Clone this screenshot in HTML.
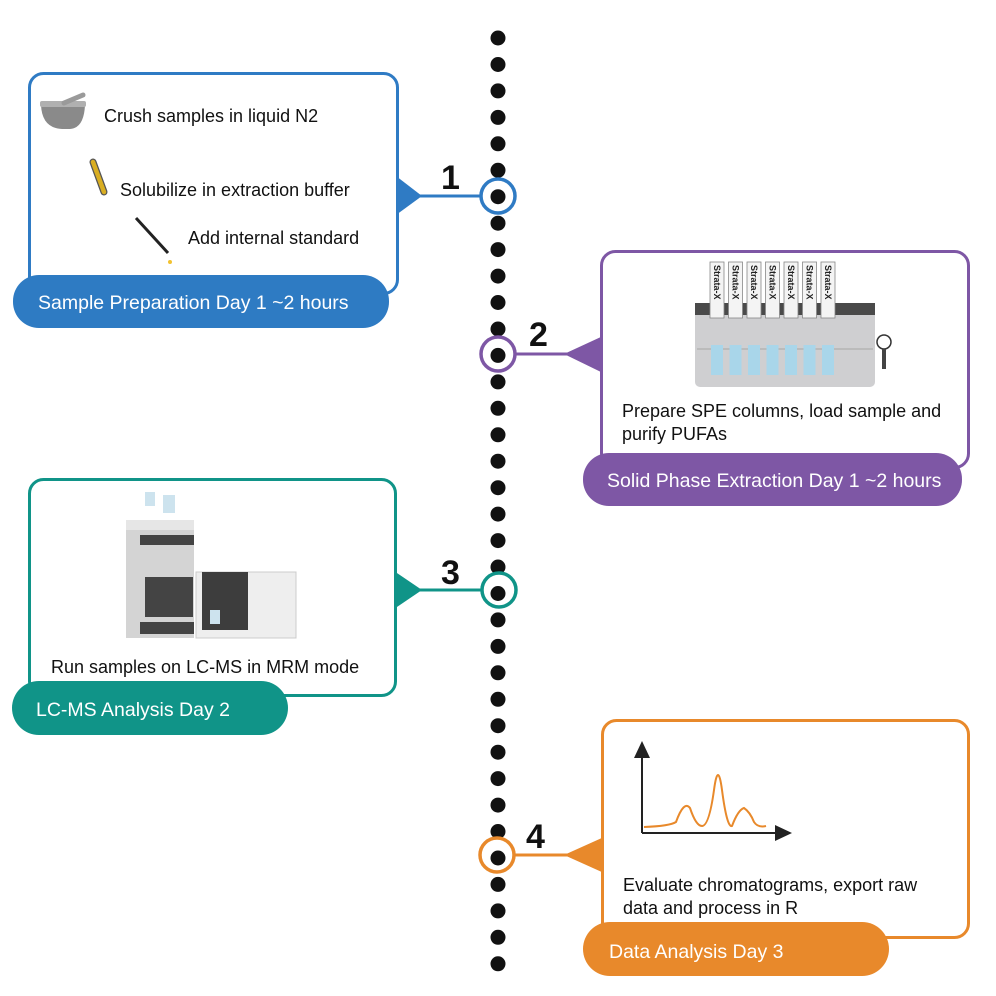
<!DOCTYPE html>
<html><head><meta charset="utf-8"><style>
html,body{margin:0;padding:0;background:#fff}
svg{display:block}
text{font-family:"Liberation Sans",sans-serif}
</style></head><body>
<svg width="996" height="996" viewBox="0 0 996 996" xmlns="http://www.w3.org/2000/svg">
<g fill="#111">
<circle cx="498" cy="38" r="7.5"/><circle cx="498" cy="64.5" r="7.5"/><circle cx="498" cy="90.9" r="7.5"/><circle cx="498" cy="117.4" r="7.5"/><circle cx="498" cy="143.8" r="7.5"/><circle cx="498" cy="170.3" r="7.5"/><circle cx="498" cy="196.7" r="7.5"/><circle cx="498" cy="223.2" r="7.5"/><circle cx="498" cy="249.6" r="7.5"/><circle cx="498" cy="276.1" r="7.5"/><circle cx="498" cy="302.5" r="7.5"/><circle cx="498" cy="329" r="7.5"/><circle cx="498" cy="355.4" r="7.5"/><circle cx="498" cy="381.9" r="7.5"/><circle cx="498" cy="408.3" r="7.5"/><circle cx="498" cy="434.8" r="7.5"/><circle cx="498" cy="461.2" r="7.5"/><circle cx="498" cy="487.7" r="7.5"/><circle cx="498" cy="514.1" r="7.5"/><circle cx="498" cy="540.6" r="7.5"/><circle cx="498" cy="567" r="7.5"/><circle cx="498" cy="593.5" r="7.5"/><circle cx="498" cy="619.9" r="7.5"/><circle cx="498" cy="646.4" r="7.5"/><circle cx="498" cy="672.8" r="7.5"/><circle cx="498" cy="699.3" r="7.5"/><circle cx="498" cy="725.7" r="7.5"/><circle cx="498" cy="752.2" r="7.5"/><circle cx="498" cy="778.6" r="7.5"/><circle cx="498" cy="805.1" r="7.5"/><circle cx="498" cy="831.5" r="7.5"/><circle cx="498" cy="858" r="7.5"/><circle cx="498" cy="884.4" r="7.5"/><circle cx="498" cy="910.9" r="7.5"/><circle cx="498" cy="937.3" r="7.5"/><circle cx="498" cy="963.8" r="7.5"/>
</g>

<!-- Box 1 -->
<rect x="29.5" y="73.5" width="368" height="220" rx="14" fill="#fff" stroke="#2f7bc4" stroke-width="3"/>
<polygon points="396,176 396,215 422,196" fill="#2f7bc4"/>
<line x1="416" y1="196" x2="482" y2="196" stroke="#2f7bc4" stroke-width="3"/>
<circle cx="498" cy="196" r="17" fill="none" stroke="#2f7bc4" stroke-width="3.5"/>
<text x="441" y="189" font-size="34" font-weight="bold" fill="#111">1</text>
<rect x="13" y="275" width="376" height="53" rx="26" fill="#2e7bc3"/>
<text x="38" y="309" font-size="19.5" fill="#fff">Sample Preparation Day 1 ~2 hours</text>
<path d="M41 105 Q42 128 62 129 L70 129 Q84 128 85 105 Z" fill="#8a8a8a"/>
<rect x="40" y="101" width="46" height="6" rx="2" fill="#b0b0b0"/>
<line x1="64" y1="103" x2="83" y2="95" stroke="#9a9a9a" stroke-width="5" stroke-linecap="round"/>
<text x="104" y="122" font-size="18" fill="#111">Crush samples in liquid N2</text>
<line x1="93" y1="162" x2="104" y2="192" stroke="#555" stroke-width="7" stroke-linecap="round"/>
<line x1="93" y1="162" x2="104" y2="192" stroke="#d9ae22" stroke-width="4.5" stroke-linecap="round"/>
<text x="120" y="196" font-size="18" fill="#111">Solubilize in extraction buffer</text>
<line x1="136" y1="218" x2="168" y2="253" stroke="#222" stroke-width="3"/>
<circle cx="170" cy="262" r="2" fill="#f2c230"/>
<text x="188" y="244" font-size="18" fill="#111">Add internal standard</text>

<!-- Box 2 -->
<rect x="601.5" y="251.5" width="367" height="216" rx="14" fill="#fff" stroke="#7e57a5" stroke-width="3"/>
<polygon points="603,336 603,373 564,354" fill="#7e57a5"/>
<line x1="514" y1="354" x2="570" y2="354" stroke="#7e57a5" stroke-width="3"/>
<circle cx="498" cy="354" r="17" fill="none" stroke="#7e57a5" stroke-width="3.5"/>
<text x="529" y="346" font-size="34" font-weight="bold" fill="#111">2</text>
<rect x="583" y="453" width="379" height="53" rx="26" fill="#7e57a5"/>
<text x="607" y="487" font-size="19.5" fill="#fff">Solid Phase Extraction Day 1 ~2 hours</text>
<rect x="695" y="303" width="180" height="84" rx="5" fill="#cfcfd1"/>
<rect x="695" y="303" width="180" height="12" fill="#4a4a4a"/>
<rect x="697" y="348" width="176" height="2" fill="#bbb"/>
<g stroke="#888" stroke-width="0.8" fill="#f4f4f4">
<rect x="710" y="262" width="14" height="56"/><rect x="728.5" y="262" width="14" height="56"/><rect x="747" y="262" width="14" height="56"/><rect x="765.5" y="262" width="14" height="56"/><rect x="784" y="262" width="14" height="56"/><rect x="802.5" y="262" width="14" height="56"/><rect x="821" y="262" width="14" height="56"/>
</g>
<g fill="#a9d6ea">
<rect x="711" y="345" width="12" height="30"/><rect x="729.5" y="345" width="12" height="30"/><rect x="748" y="345" width="12" height="30"/><rect x="766.5" y="345" width="12" height="30"/><rect x="785" y="345" width="12" height="30"/><rect x="803.5" y="345" width="12" height="30"/><rect x="822" y="345" width="12" height="30"/>
</g>
<g font-size="9" font-weight="bold" fill="#222">
<text transform="translate(714,265) rotate(90)">Strata-X</text><text transform="translate(732.5,265) rotate(90)">Strata-X</text><text transform="translate(751,265) rotate(90)">Strata-X</text><text transform="translate(769.5,265) rotate(90)">Strata-X</text><text transform="translate(788,265) rotate(90)">Strata-X</text><text transform="translate(806.5,265) rotate(90)">Strata-X</text><text transform="translate(825,265) rotate(90)">Strata-X</text>
</g>
<circle cx="884" cy="342" r="7" fill="#fff" stroke="#333" stroke-width="1.5"/>
<rect x="882" y="349" width="4" height="20" fill="#444"/>
<text x="622" y="417" font-size="18" fill="#111">Prepare SPE columns, load sample and</text>
<text x="622" y="440" font-size="18" fill="#111">purify PUFAs</text>

<!-- Box 3 -->
<rect x="29.5" y="479.5" width="366" height="216" rx="14" fill="#fff" stroke="#109488" stroke-width="3"/>
<polygon points="394,571 394,609 422,590" fill="#109488"/>
<line x1="416" y1="590" x2="483" y2="590" stroke="#109488" stroke-width="3"/>
<circle cx="499" cy="590" r="17" fill="none" stroke="#109488" stroke-width="3.5"/>
<text x="441" y="584" font-size="34" font-weight="bold" fill="#111">3</text>
<rect x="12" y="681" width="276" height="54" rx="27" fill="#109488"/>
<text x="36" y="716" font-size="19.5" fill="#fff">LC-MS Analysis Day 2</text>
<rect x="145" y="492" width="10" height="14" fill="#cde3ee"/>
<rect x="163" y="495" width="12" height="18" fill="#cde3ee"/>
<rect x="126" y="520" width="68" height="118" fill="#d4d4d4"/>
<rect x="126" y="520" width="68" height="10" fill="#e6e6e6"/>
<rect x="140" y="535" width="54" height="10" fill="#444"/>
<rect x="145" y="577" width="48" height="40" fill="#444"/>
<rect x="140" y="622" width="54" height="12" fill="#444"/>
<rect x="196" y="572" width="100" height="66" fill="#eeeeee" stroke="#ccc"/>
<rect x="202" y="572" width="46" height="58" fill="#3d3d3d"/>
<rect x="210" y="610" width="10" height="14" fill="#cde3ee"/>
<text x="51" y="673" font-size="18" fill="#111">Run samples on LC-MS in MRM mode</text>

<!-- Box 4 -->
<rect x="602.5" y="720.5" width="366" height="217" rx="14" fill="#fff" stroke="#e8892b" stroke-width="3"/>
<polygon points="604,837 604,873 564,855" fill="#e8892b"/>
<line x1="514" y1="855" x2="570" y2="855" stroke="#e8892b" stroke-width="3"/>
<circle cx="497" cy="855" r="17" fill="none" stroke="#e8892b" stroke-width="3.5"/>
<text x="526" y="848" font-size="34" font-weight="bold" fill="#111">4</text>
<rect x="583" y="922" width="306" height="54" rx="27" fill="#e8892b"/>
<text x="609" y="958" font-size="19.5" fill="#fff">Data Analysis Day 3</text>
<line x1="642" y1="833" x2="642" y2="754" stroke="#222" stroke-width="2"/>
<polygon points="634,758 650,758 642,741" fill="#222"/>
<line x1="642" y1="833" x2="778" y2="833" stroke="#222" stroke-width="2"/>
<polygon points="775,825 775,841 792,833" fill="#222"/>
<path d="M644 827 Q670 826 676 822 Q684 800 690 808 Q696 826 702 826 Q709 826 714 790 Q718 760 722 790 Q727 828 732 826 Q738 810 744 808 Q750 812 754 822 Q758 828 766 826" fill="none" stroke="#e8892b" stroke-width="2"/>
<text x="623" y="891" font-size="18" fill="#111">Evaluate chromatograms, export raw</text>
<text x="623" y="914" font-size="18" fill="#111">data and process in R</text>
</svg>
</body></html>
